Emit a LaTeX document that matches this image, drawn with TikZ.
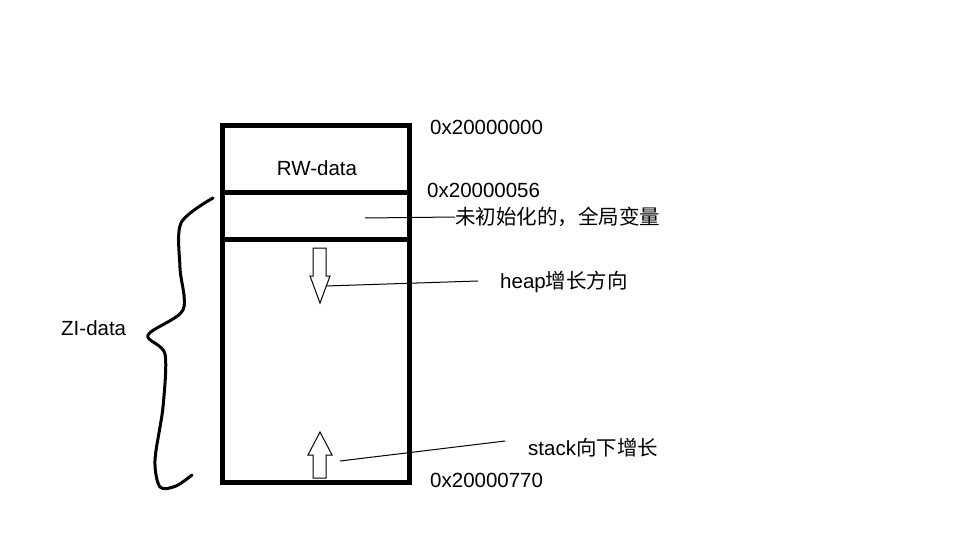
\documentclass[tikz,border=0pt]{standalone}
\usepackage{fontspec}
\setmainfont{Liberation Sans}
\newfontfamily\cjk{Noto Sans CJK SC}
\begin{document}
\begin{tikzpicture}[x=1pt,y=-1pt,
  lbl/.style={anchor=west,inner sep=0pt,font=\fontsize{20.5}{24}\selectfont},
  thick4/.style={line width=5pt},
  thin/.style={line width=1pt}]
\useasboundingbox (0,0) rectangle (960,540);
\draw[thick4] (222,126) rectangle (409,482);
\draw[thick4] (222,192) -- (412,192);
\draw[thick4] (224,239) -- (409,239);
\draw[thin] (313,248) -- (326,248) -- (326,276) -- (330,276) -- (320,303) -- (310,276) -- (313,276) -- cycle;
\draw[thin] (320,432) -- (332,455) -- (326,455) -- (326,478) -- (313,478) -- (313,455) -- (308,455) -- cycle;
\node[lbl,anchor=center] (rw) at (317,168) {RW-data};
\node[lbl] (a0) at (430,127) {0x20000000};
\node[lbl] (a1) at (427,190) {0x20000056};
\node[lbl] (a2) at (430,480) {0x20000770};
\node[lbl] (un) at (455,217) {{\cjk 未初始化的，全局变量}};
\node[lbl] (hp) at (500,282) {heap{\cjk 增长方向}};
\node[lbl] (st) at (528,448) {stack{\cjk 向下增长}};
\node[lbl] (zi) at (61,328) {ZI-data};
\coordinate (c1) at (365,218);
\coordinate (c2) at (326,286);
\coordinate (c3) at (340,461);
\draw[thin] (c1) -- (un.west);
\draw[thin] (c2) -- (478,281);
\draw[thin] (c3) -- (505,441);
\draw[line width=3pt,line join=round,line cap=round] plot[smooth,tension=0.5] coordinates {(213,198) (181,223) (180,268) (183,310) (148,335) (165,354) (163,407) (155,460) (160,487) (176,486) (192,475)};
\end{tikzpicture}
\end{document}
